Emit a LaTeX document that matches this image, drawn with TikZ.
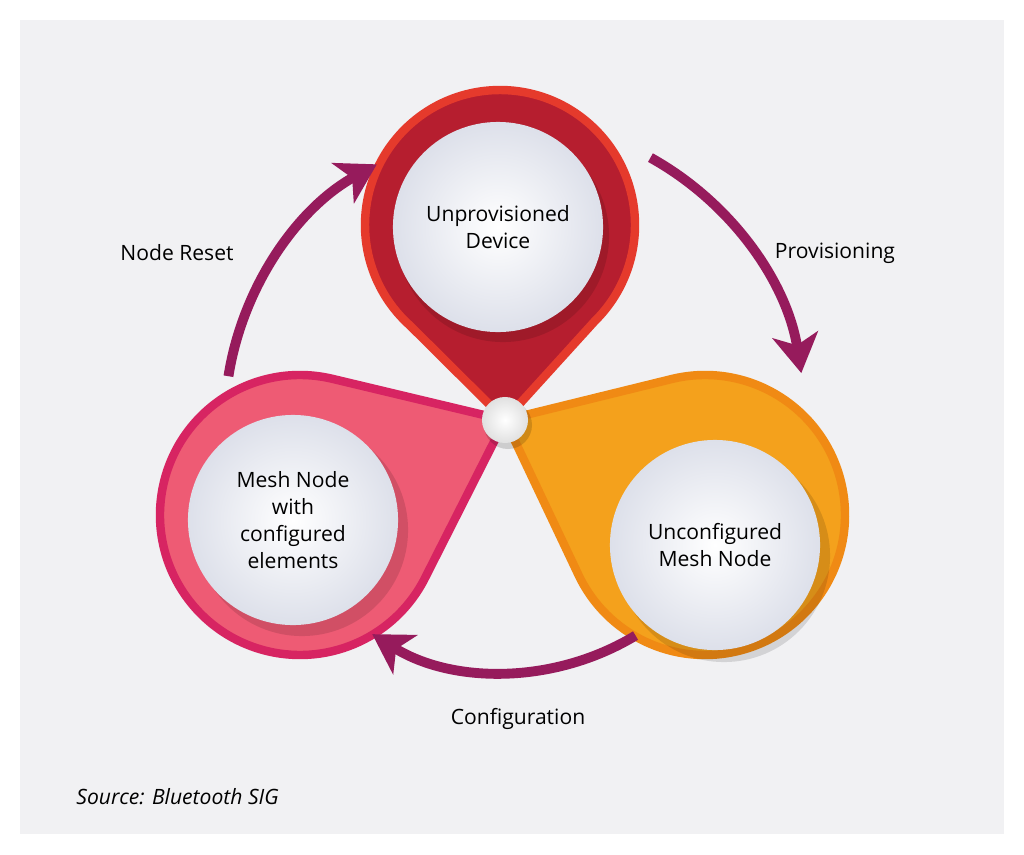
\documentclass[tikz,border=0pt]{standalone}
\usepackage{fontspec}
\setmainfont{Open Sans}
\usepackage{xcolor}
\usetikzlibrary{arrows.meta,calc}
\definecolor{bgray}{HTML}{F1F1F3}
\definecolor{pinred}{HTML}{B61E2F}
\definecolor{pinredrim}{HTML}{E53A2C}
\definecolor{pinorange}{HTML}{F4A11C}
\definecolor{pinorangerim}{HTML}{F08A14}
\definecolor{pinpink}{HTML}{EE5B74}
\definecolor{pinpinkrim}{HTML}{D72462}
\definecolor{cyclearrow}{HTML}{961B5C}
\definecolor{bubbleedge}{HTML}{DDE0EA}
\begin{document}
\begin{tikzpicture}[x=0.01cm,y=-0.01cm,line join=round,
  bubble/.style={circle,minimum size=2.1cm,inner sep=0pt,align=center,
    shading=radial,inner color=white,outer color=bubbleedge,
    font=\fontsize{6}{7.6}\selectfont},
  label/.style={font=\fontsize{6}{7.6}\selectfont},
  cycle/.style={draw=cyclearrow,line width=2.8pt,-{Stealth[length=11pt,width=13pt,inset=3pt]}}]

\useasboundingbox (0,0) rectangle (1024,854);
\fill[white] (0,0) rectangle (1024,854);
\fill[bgray] (20,20) rectangle (1004,834);

\coordinate (Hub) at (505,420);

% pins
\coordinate (TopC) at (500,225);
\coordinate (RightC) at (705,515);
\coordinate (LeftC) at (300,515);
\filldraw[fill=pinred,draw=pinredrim,line width=2.4pt]
  (Hub) -- ($(TopC)+(45.4:135)$) arc[start angle=45.4,end angle=-228.4,radius=135] -- cycle;
\filldraw[fill=pinorange,draw=pinorangerim,line width=2.4pt]
  (Hub) -- ($(RightC)+(256.2:140)$) arc[start angle=256.2,end angle=514.6,radius=140] -- cycle;
\filldraw[fill=pinpink,draw=pinpinkrim,line width=2.4pt]
  (Hub) -- ($(LeftC)+(-76.6:140)$) arc[start angle=-76.6,end angle=-333.2,radius=140] -- cycle;

% shadows
\fill[black,opacity=0.12] (503,236) circle (1.06cm);
\fill[black,opacity=0.12] (724,556) circle (1.06cm);
\fill[black,opacity=0.12] (302,530) circle (1.06cm);

\node[bubble] (Unprovisioned) at (498,227) {Unprovisioned\\Device};
\node[bubble] (Unconfigured) at (715,545) {Unconfigured\\Mesh Node};
\node[bubble] (MeshNode) at (293,520) {Mesh Node\\with\\configured\\elements};

\fill[black,opacity=0.15] (508,425) circle (0.24cm);
\node[circle,minimum size=0.46cm,inner sep=0pt,shading=radial,inner color=white,outer color=black!12] (HubDot) at (Hub) {};

% cycle arrows
\draw[cycle] ($(Hub)+(-61:300)$) arc[start angle=-61,end angle=-9,radius=300];
\draw[cycle] ($(Hub)+(58.8:252)$) arc[start angle=58.8,end angle=121.8,radius=252];
\draw[cycle] ($(Hub)+(-171:280)$) arc[start angle=-171,end angle=-119,radius=295];

\node[label] (Provisioning) at (835,253) {Provisioning};
\node[label] (NodeReset) at (177,253) {Node Reset};
\node[label] (Configuration) at (518,719) {Configuration};
\node[label,anchor=west,font=\fontsize{6}{7.6}\selectfont\itshape] (Source) at (64,797) {Source: Bluetooth SIG};

\end{tikzpicture}
\end{document}
